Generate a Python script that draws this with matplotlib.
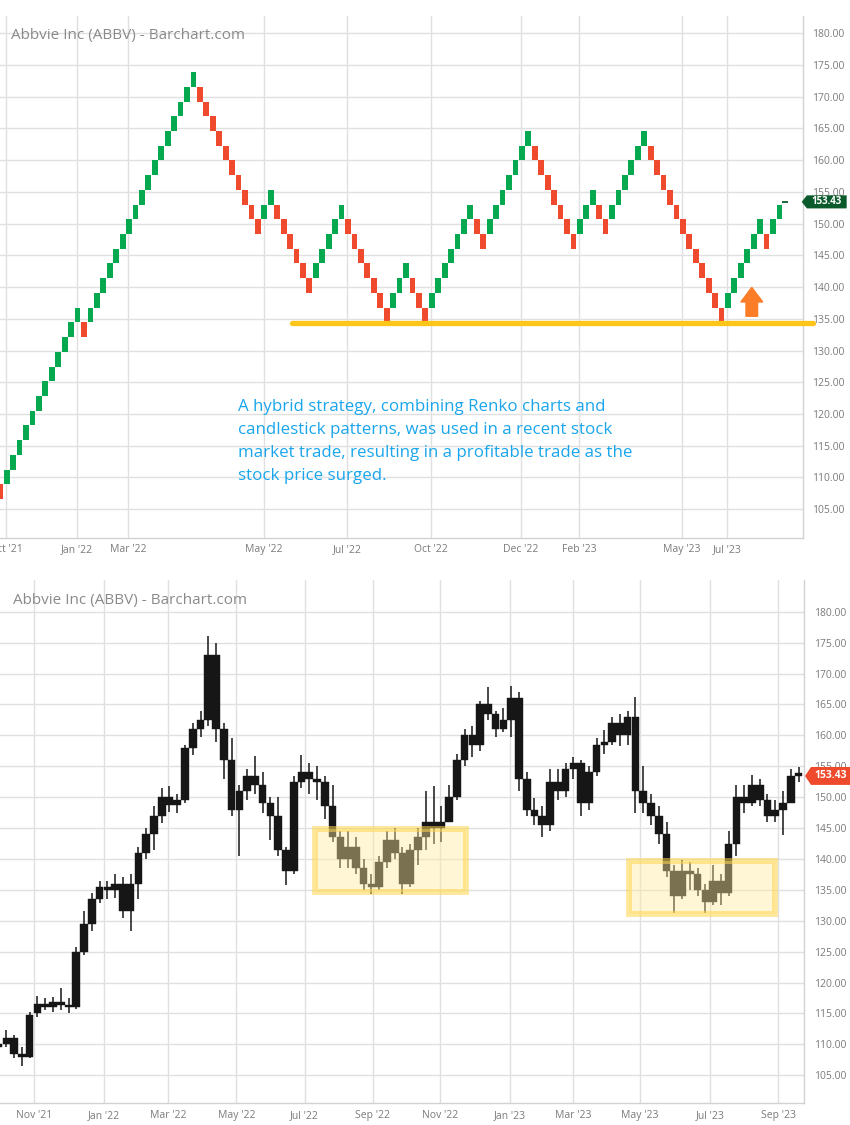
import numpy as np
import pandas as pd
import matplotlib
matplotlib.use("Agg")
import matplotlib.pyplot as plt
from matplotlib.patches import Rectangle, Polygon, FancyArrow

plt.rcParams['font.family'] = ['Open Sans', 'DejaVu Sans']

# ---------------- DATA ----------------
title = "Abbvie Inc (ABBV) - Barchart.com"
last_price = 153.43

# Renko (top panel)
renko_brick_size = 2.32
renko_first_top = 108.92
renko_runs_dir = ['D', 'U', 'D', 'U', 'D', 'U', 'D', 'U', 'D', 'U', 'D',
                  'U', 'D', 'U', 'D', 'U', 'D', 'U', 'D', 'U', 'D', 'U']
renko_runs_len = [1, 12, 1, 17, 10, 2, 6, 5, 7, 3, 3,
                  7, 2, 7, 7, 3, 2, 6, 12, 6, 1, 2]
renko_month_labels = ["Oct '21", "Jan '22", "Mar '22", "May '22", "Jul '22",
                      "Oct '22", "Dec '22", "Feb '23", "May '23", "Jul '23"]
renko_month_bricks = [1, 12, 20, 41, 54, 67, 81, 90, 106, 113]
support_level = 134.26
annotation = ("A hybrid strategy, combining Renko charts and\n"
              "candlestick patterns, was used in a recent stock\n"
              "market trade, resulting in a profitable trade as the\n"
              "stock price surged.")

# Weekly OHLC (bottom panel), weeks starting Monday
week_start = "2021-09-27"
w_open = [109.5, 110.0, 111.0, 108.5, 108.0, 115.0, 116.5, 116.0, 116.8, 116.3,
          116.0, 125.0, 129.5, 133.5, 135.5, 135.0, 136.0, 131.5, 136.0, 141.0,
          144.0, 147.0, 150.0, 148.8, 149.5, 158.0, 161.0, 162.5, 173.0, 161.0,
          156.0, 148.0, 151.0, 153.5, 152.0, 149.0, 147.0, 141.5, 138.0, 152.5,
          154.0, 153.0, 152.5, 148.5, 143.5, 140.0, 142.0, 138.5, 136.0, 135.5,
          139.5, 143.0, 141.0, 136.0, 141.5, 143.5, 146.0, 145.0, 146.0, 150.0,
          156.0, 160.0, 158.5, 165.0, 163.5, 161.0, 162.5, 166.0, 153.0, 148.0,
          147.0, 145.5, 152.5, 151.0, 154.5, 155.5, 149.0, 154.0, 158.5, 159.0,
          162.0, 160.0, 163.0, 151.0, 149.0, 147.0, 144.0, 138.0, 134.0, 138.0,
          137.5, 135.0, 133.0, 136.5, 134.5, 142.5, 150.0, 149.0, 152.0, 149.5,
          147.0, 148.0, 149.0, 153.5]
w_high = [111.0, 112.3, 111.5, 109.5, 115.2, 117.8, 117.5, 117.6, 119.2, 117.5,
          125.8, 131.5, 134.5, 136.5, 136.5, 137.5, 137.0, 137.5, 142.0, 145.0,
          148.5, 151.5, 151.8, 150.5, 158.5, 162.0, 164.0, 176.0, 175.0, 162.0,
          159.5, 152.0, 154.5, 156.6, 154.0, 150.0, 150.0, 142.0, 153.5, 156.8,
          155.5, 155.0, 153.5, 152.0, 144.5, 144.5, 143.5, 140.0, 137.5, 140.5,
          144.5, 145.0, 142.0, 142.5, 145.0, 151.0, 151.8, 148.5, 152.0, 157.0,
          161.0, 161.5, 165.5, 167.8, 164.0, 164.5, 168.0, 167.0, 154.0, 149.8,
          148.5, 154.5, 154.5, 155.5, 156.5, 156.0, 155.0, 159.5, 160.8, 163.0,
          163.5, 164.0, 166.2, 155.0, 150.5, 148.5, 146.0, 139.0, 139.8, 139.5,
          138.5, 136.0, 139.0, 137.5, 144.5, 152.0, 152.0, 153.6, 153.0, 150.5,
          149.5, 151.0, 154.5, 154.8]
w_low = [108.5, 109.5, 107.8, 106.5, 107.8, 114.5, 115.5, 115.3, 115.5, 115.0,
         115.8, 124.5, 128.3, 132.8, 133.5, 133.7, 130.5, 128.3, 133.5, 140.0,
         141.5, 145.8, 147.6, 147.5, 149.0, 156.8, 159.8, 161.5, 159.0, 153.0,
         147.0, 140.5, 149.5, 150.5, 147.5, 143.0, 140.5, 135.8, 137.5, 151.5,
         150.5, 149.5, 146.5, 142.8, 138.5, 138.5, 137.5, 135.0, 134.3, 135.0,
         138.5, 140.0, 134.3, 135.5, 139.0, 141.5, 142.5, 142.8, 146.0, 149.5,
         155.0, 156.5, 157.5, 162.5, 159.8, 160.5, 159.8, 151.0, 147.0, 145.5,
         143.5, 144.5, 149.5, 150.0, 153.0, 147.0, 148.0, 153.5, 157.0, 158.5,
         158.3, 158.5, 147.5, 147.5, 145.5, 142.5, 137.0, 131.2, 133.5, 135.0,
         134.0, 131.2, 132.5, 132.5, 134.0, 140.5, 147.5, 148.5, 148.5, 146.0,
         146.0, 143.8, 149.0, 152.5]
w_close = [110.0, 111.0, 108.5, 108.0, 114.7, 116.5, 116.0, 116.8, 116.3, 116.0,
           125.0, 129.5, 133.5, 135.5, 135.0, 136.0, 131.5, 136.0, 141.0, 144.0,
           147.0, 150.0, 148.8, 149.5, 158.0, 161.0, 162.5, 173.0, 161.0, 156.0,
           148.0, 151.0, 153.5, 152.0, 149.0, 147.0, 141.5, 138.0, 152.5, 154.0,
           153.0, 152.5, 148.5, 143.5, 140.0, 142.0, 138.5, 136.0, 135.5, 139.5,
           143.0, 141.0, 136.0, 141.5, 143.5, 146.0, 145.0, 146.0, 150.0, 156.0,
           160.0, 158.5, 165.0, 163.5, 161.0, 162.5, 166.0, 153.0, 148.0, 147.0,
           145.5, 152.5, 151.0, 154.5, 155.5, 149.0, 154.0, 158.5, 159.0, 162.0,
           160.0, 163.0, 151.0, 149.0, 147.0, 144.0, 138.0, 134.0, 138.0, 137.5,
           135.0, 133.0, 136.5, 134.5, 142.5, 150.0, 149.0, 152.0, 149.5, 147.0,
           148.0, 149.0, 153.5, 153.43]
candle_month_labels = ["Nov '21", "Jan '22", "Mar '22", "May '22", "Jul '22", "Sep '22",
                       "Nov '22", "Jan '23", "Mar '23", "May '23", "Jul '23", "Sep '23"]
candle_month_dates = ["2021-11-01", "2022-01-03", "2022-03-01", "2022-05-02",
                      "2022-07-01", "2022-09-01", "2022-11-01", "2023-01-03",
                      "2023-03-01", "2023-05-01", "2023-07-03", "2023-09-01"]
# highlighted consolidation zones: (start date, end date, low, high)
zone_start = ["2022-07-12", "2023-04-20"]
zone_end = ["2022-11-24", "2023-08-30"]
zone_low = [134.6, 131.1]
zone_high = [144.8, 139.6]

# ---------------- STYLE ----------------
GRID = '#e0e0e0'
SPINE = '#d2d2d2'
TICKC = '#7b7b7b'
GREEN = '#06a94f'
RED = '#ef4a2d'
CANDLE = '#161616'

fig = plt.figure(figsize=(8.5, 11.25), dpi=100)
ax1 = fig.add_axes([0.0, 0.52151, 0.94506, 0.46427])
ax2 = fig.add_axes([0.0, 0.01929, 0.94624, 0.46516])


def style(ax, ypad, xpad):
    ax.set_axisbelow(True)
    ax.grid(True, color=GRID, lw=1.0)
    for s in ('left', 'top'):
        ax.spines[s].set_visible(False)
    for s in ('right', 'bottom'):
        ax.spines[s].set_color(SPINE)
        ax.spines[s].set_linewidth(1.0)
    ax.yaxis.tick_right()
    ax.tick_params(axis='y', length=0, labelsize=7.5, labelcolor=TICKC, pad=ypad)
    ax.tick_params(axis='x', length=0, labelsize=7.5, labelcolor=TICKC, pad=xpad)
    ax.set_yticks(np.arange(105, 181, 5))
    ax.set_yticklabels([f"{v:.2f}" for v in np.arange(105, 181, 5)])


# ---------------- TOP: RENKO ----------------
style(ax1, 6.0, 4.0)
prev_lo = prev_hi = renko_first_top
idx = 0
for d, n in zip(renko_runs_dir, renko_runs_len):
    for _ in range(n):
        if d == 'U':
            lo, hi = prev_hi, prev_hi + renko_brick_size
            col = GREEN
        else:
            lo, hi = prev_lo - renko_brick_size, prev_lo
            col = RED
        ax1.add_patch(Rectangle((idx - 0.45, lo), 0.9, hi - lo, facecolor=col,
                                edgecolor='none', zorder=3))
        prev_lo, prev_hi = lo, hi
        idx += 1
n_bricks = idx
ax1.set_xlim(-0.04, 124.7)
ax1.set_ylim(100.4, 182.73)
ax1.set_xticks(np.array(renko_month_bricks) - 0.12)
ax1.set_xticklabels(renko_month_labels)

# current price dash
ax1.hlines(last_price, n_bricks - 0.65, n_bricks + 0.35, color='#0b5a2c', lw=1.3, zorder=4)

# support line
ax1.plot([45.3, 126.2], [support_level, support_level], color='#ffc619', lw=3.8,
         solid_capstyle='round', zorder=4, clip_on=False)

# orange arrow
ax1.add_patch(FancyArrow(116.7, 135.4, 0, 4.55, width=1.8, head_width=3.4,
                         head_length=2.3, length_includes_head=True,
                         color='#fb7d28', zorder=5))

ax1.text(0.0137, 0.9636, title, transform=ax1.transAxes, fontsize=11,
         color='#8a8a8a', va='center', ha='left')
ax1.text(0.2963, 0.1853, annotation, transform=ax1.transAxes, fontsize=12.2,
         color='#1aa6ec', va='center', ha='left', linespacing=1.6)

# price tag top
tr1 = ax1.get_yaxis_transform()
h1 = 1.03
ax1.add_patch(Polygon([(0.998, last_price), (1.0045, last_price + h1), (1.054, last_price + h1),
                       (1.054, last_price - h1), (1.0045, last_price - h1)],
                      closed=True, transform=tr1, facecolor='#0b5a2c', edgecolor='none',
                      clip_on=False, zorder=6))
ax1.text(1.029, last_price, f"{last_price:.2f}", transform=tr1, color='white',
         fontsize=7, fontweight='bold', ha='center', va='center', zorder=7)

# ---------------- BOTTOM: CANDLES ----------------
style(ax2, 7.2, 5.0)
origin = np.datetime64("2021-11-01")
weeks = pd.date_range(week_start, periods=len(w_close), freq='7D').values.astype('datetime64[D]')
xw = np.busday_count(origin, weeks) + 2.0
O = np.array(w_open); H = np.array(w_high); L = np.array(w_low); C = np.array(w_close)
ax2.vlines(xw, L, H, color=CANDLE, lw=1.1, zorder=3)
body_lo = np.minimum(O, C)
body_h = np.maximum(np.abs(C - O), 0.4)
ax2.bar(xw, body_h, bottom=body_lo, width=4.9, color=CANDLE, edgecolor=CANDLE,
        linewidth=0.3, zorder=3)

for s, e, lo, hi in zip(zone_start, zone_end, zone_low, zone_high):
    xs = np.busday_count(origin, np.datetime64(s))
    xe = np.busday_count(origin, np.datetime64(e))
    ax2.add_patch(Rectangle((xs, lo), xe - xs, hi - lo,
                            facecolor=(1.0, 0.92, 0.63, 0.43),
                            edgecolor=(1.0, 0.84, 0.31, 0.55), lw=4.3, zorder=5))

ax2.set_xlim(-22.1, 495.7)
ax2.set_ylim(100.47, 185.13)
tick_pos = np.busday_count(origin, np.array(candle_month_dates, dtype='datetime64[D]'))
ax2.set_xticks(tick_pos)
ax2.set_xticklabels(candle_month_labels)

ax2.text(0.0158, 0.9604, title, transform=ax2.transAxes, fontsize=11,
         color='#8a8a8a', va='center', ha='left')

tr2 = ax2.get_yaxis_transform()
h2 = 1.45
ax2.add_patch(Polygon([(1.0009, last_price), (1.0083, last_price + h2), (1.0568, last_price + h2),
                       (1.0568, last_price - h2), (1.0083, last_price - h2)],
                      closed=True, transform=tr2, facecolor='#ee4a2b', edgecolor='none',
                      clip_on=False, zorder=6))
ax2.text(1.0325, last_price, f"{last_price:.2f}", transform=tr2, color='white',
         fontsize=7.5, fontweight='bold', ha='center', va='center', zorder=7)

fig.savefig("out.png", dpi=100)
